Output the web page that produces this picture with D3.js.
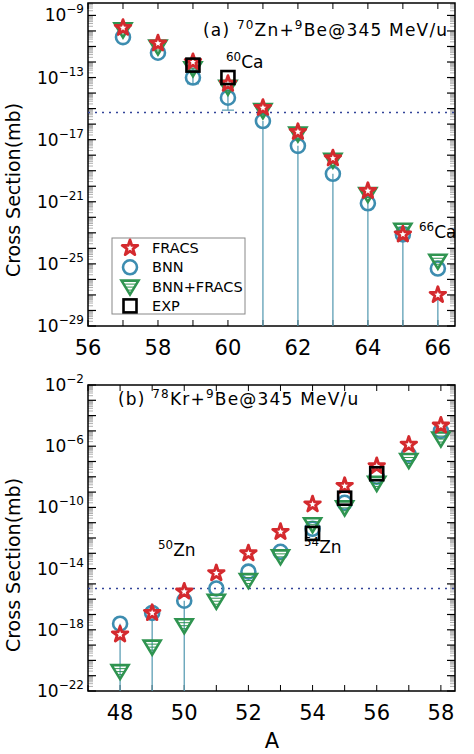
<!DOCTYPE html><html><head><meta charset="utf-8"><script src="https://cdn.jsdelivr.net/npm/d3@7"></script>
<style>body{margin:0;background:#fff}text{font-family:"DejaVu Sans",sans-serif}</style></head><body><svg id="c" width="474" height="754"></svg>
<script>
// Panel (a) 70Zn+9Be: log10 cross sections
const aA=[57,58,59,60,61,62,63,64,65,66];
const aFRACS=[-9.8,-10.8,-12.0,-13.4,-14.95,-16.5,-18.2,-20.3,-23.1,-27.0];
const aBNN=[-10.4,-11.4,-13.0,-14.3,-15.8,-17.4,-19.2,-21.1,-23.1,-25.3];
const aBF=[-9.9,-11.0,-12.4,-13.6,-15.1,-16.6,-18.3,-20.5,-22.8,-24.8];
const aEXP=[{A:59,v:-12.2,lo:-13.4},{A:60,v:-13.0,lo:-15.1}];
const aStem=[61,62,63,64,65,66];
// Panel (b) 78Kr+9Be
const bA=[48,49,50,51,52,53,54,55,56,57,58];
const bFRACS=[-18.3,-16.9,-15.5,-14.3,-13.0,-11.6,-9.8,-8.6,-7.3,-5.9,-4.65];
const bBNN=[-17.6,-16.9,-16.1,-15.3,-14.2,-12.9,-11.4,-9.7,-8.0,-6.55,-5.0];
const bBF=[-20.7,-19.1,-17.7,-16.1,-14.75,-13.2,-11.1,-10.0,-8.4,-6.9,-5.5];
const bEXP=[{A:54,v:-11.7},{A:55,v:-9.4},{A:56,v:-7.8}];
const bStem=[48,49,50];
const aTicksY=[-9,-13,-17,-21,-25,-29], bTicksY=[-2,-6,-10,-14,-18,-22];
const aTicksX=[56,58,60,62,64,66], bTicksX=[48,50,52,54,56,58];

const svg=d3.select("#c");
const RED="#d42a2e",BLU="#3d8db0",GRN="#2f9450",STEM="#5d9fb5";
function panel(o){
  const g=svg.append("g");
  const x=d3.scaleLinear().domain(o.xd).range([88,455]);
  const y=d3.scaleLinear().domain(o.yd).range(o.yr);
  const [yb,yt]=o.yr;
  for(let d=Math.ceil(o.yd[0]);d<=o.yd[1];d++){
    for(let m=1;m<10;m++){const v=d+Math.log10(m); if(v>o.yd[1]) break;
      const len=m==1?8:5, col=m==1?"#000":"#999";
      [[88,88+len],[455,455-len]].forEach(([a,b])=>g.append("line").attr("x1",a).attr("x2",b).attr("y1",y(v)).attr("y2",y(v)).attr("stroke",col).attr("stroke-width",m==1?1.2:0.8));
    }
  }
  for(let t=Math.ceil(o.xd[0]);t<=o.xd[1];t++){
    [[yb,yb-6],[yt,yt+6]].forEach(([a,b])=>g.append("line").attr("x1",x(t)).attr("x2",x(t)).attr("y1",a).attr("y2",b).attr("stroke","#000"));
  }
  g.append("rect").attr("x",88).attr("y",yt).attr("width",367).attr("height",yb-yt).attr("fill","none").attr("stroke","#000").attr("stroke-width",1.5);
  o.ty.forEach(t=>{const tx=g.append("text").attr("x",84).attr("y",y(t)+6).attr("text-anchor","end").attr("font-size",17);
    tx.append("tspan").text("10");tx.append("tspan").attr("dy",-8).attr("font-size",12).text("−"+(-t));});
  o.tx.forEach(t=>g.append("text").attr("x",x(t)).attr("y",yb+29).attr("text-anchor","middle").attr("font-size",21).text(t));
  g.append("line").attr("x1",88).attr("x2",455).attr("y1",y(o.dot)).attr("y2",y(o.dot)).attr("stroke","#334499").attr("stroke-width",1.5).attr("stroke-dasharray","2,5");
  o.stem.forEach(A=>{const i=o.A.indexOf(A);const v=A==66?o.fr[i]:o.bnn[i];
    g.append("line").attr("x1",x(A)).attr("x2",x(A)).attr("y1",y(v)).attr("y2",yb).attr("stroke",STEM).attr("stroke-width",1.3);});
  (o.exp||[]).forEach(e=>{if(e.lo!==undefined){ g.append("line").attr("x1",x(e.A)).attr("x2",x(e.A)).attr("y1",y(e.v)).attr("y2",y(e.lo)).attr("stroke",STEM).attr("stroke-width",1.3);
    g.append("line").attr("x1",x(e.A)-6).attr("x2",x(e.A)+6).attr("y1",y(e.lo)).attr("y2",y(e.lo)).attr("stroke",STEM).attr("stroke-width",1.3);}});
  o.A.forEach((A,i)=>{circ(g,x(A),y(o.bnn[i]));});
  o.A.forEach((A,i)=>{tri(g,x(A),y(o.bf[i]));});
  o.A.forEach((A,i)=>{star(g,x(A),y(o.fr[i]));});
  (o.exp||[]).forEach(e=>sq(g,x(e.A),y(e.v)));
  return {x,y,g};
}
function circ(g,cx,cy){g.append("circle").attr("cx",cx).attr("cy",cy).attr("r",7).attr("fill","none").attr("stroke",BLU).attr("stroke-width",2.6);}
function tri(g,cx,cy){const s=8.5;g.append("path").attr("d",`M${cx-s},${cy-6}L${cx+s},${cy-6}L${cx},${cy+8}Z`).attr("fill","none").attr("stroke",GRN).attr("stroke-width",2.6);
  [-2.5,0.5,3.5].forEach(d=>{const w=s*(8-d)/14*0.9;g.append("line").attr("x1",cx-w).attr("x2",cx+w).attr("y1",cy+d).attr("y2",cy+d).attr("stroke",GRN).attr("stroke-width",1);});}
function star(g,cx,cy){const p=d3.symbol().type(d3.symbolStar).size(75)();g.append("path").attr("d",p).attr("transform",`translate(${cx},${cy})`).attr("fill","#fff").attr("stroke",RED).attr("stroke-width",2.8).attr("stroke-linejoin","round");}
function sq(g,cx,cy){g.append("rect").attr("x",cx-6.5).attr("y",cy-6.5).attr("width",13).attr("height",13).attr("fill","none").attr("stroke","#000").attr("stroke-width",2.6);}

panel({xd:[56,66.49],yd:[-29,-8.2],yr:[326,3],A:aA,fr:aFRACS,bnn:aBNN,bf:aBF,exp:aEXP,stem:aStem,ty:aTicksY,tx:aTicksX,dot:-15.25});
panel({xd:[47,58.44],yd:[-22,-2],yr:[691,385],A:bA,fr:bFRACS,bnn:bBNN,bf:bBF,exp:bEXP,stem:bStem,ty:bTicksY,tx:bTicksX,dot:-15.3});
function sup(x,y,s,b,fs){const t=svg.append("text").attr("x",x).attr("y",y).attr("font-size",fs);t.append("tspan").attr("dy",-7).attr("font-size",fs*0.7).text(s);t.append("tspan").attr("dy",7).text(b);return t;}
function title(x,y,lab,a,b){const t=svg.append("text").attr("x",x).attr("y",y).attr("font-size",17).attr("letter-spacing",1.2);
 t.append("tspan").text(lab+" ");t.append("tspan").attr("dy",-7).attr("font-size",12).text(a);t.append("tspan").attr("dy",7).text(b+"+");t.append("tspan").attr("dy",-7).attr("font-size",12).text("9");t.append("tspan").attr("dy",7).text("Be@345 MeV/u");}
title(203,36,"(a)","70","Zn");title(118,405,"(b)","78","Kr");
sup(226,68,"60","Ca",17);sup(419,238,"66","Ca",17);sup(158,556,"50","Zn",17);sup(304,553,"54","Zn",17);
const lg=svg.append("g");
lg.append("rect").attr("x",112).attr("y",238).attr("width",133).attr("height",76).attr("fill","#fff").attr("stroke","#888");
[["FRACS",star],["BNN",circ],["BNN+FRACS",tri],["EXP",sq]].forEach(([n,f],i)=>{const yy=248+i*19.3;f(lg,130,yy);
  lg.append("text").attr("x",152).attr("y",yy+5).attr("font-size",14.5).text(n);});
svg.append("text").attr("transform","translate(20,190)rotate(-90)").attr("text-anchor","middle").attr("font-size",19).text("Cross Section(mb)");
svg.append("text").attr("transform","translate(20,565)rotate(-90)").attr("text-anchor","middle").attr("font-size",19).text("Cross Section(mb)");
svg.append("text").attr("x",272).attr("y",748).attr("text-anchor","middle").attr("font-size",21).text("A");
</script></body></html>
